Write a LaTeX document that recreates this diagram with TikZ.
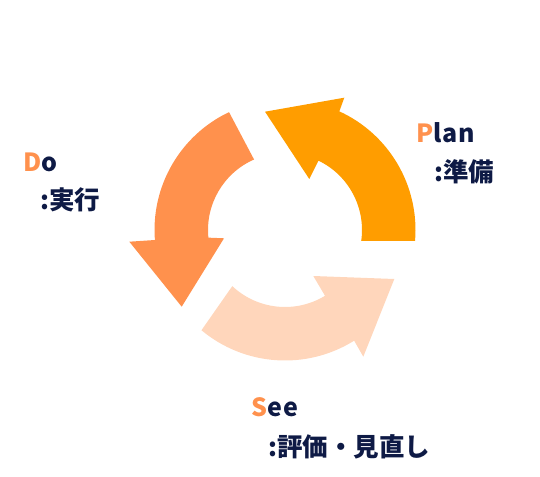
\documentclass[tikz,border=0pt]{standalone}
\usepackage{fontspec}
\setmainfont{Noto Sans CJK JP}
\newfontfamily\latinbold{Noto Sans CJK JP}[LetterSpace=4]
\definecolor{planorange}{HTML}{FF9D00}
\definecolor{doorange}{HTML}{FF914D}
\definecolor{seepeach}{HTML}{FFD6BB}
\definecolor{navy}{HTML}{0E1A45}
\definecolor{initial}{HTML}{FF914D}
\tikzset{
  phase/.style={anchor=base west, inner sep=0pt, text=navy, font=\latinbold\bfseries\fontsize{25}{30}\selectfont},
  desc/.style={anchor=base west, inner sep=0pt, text=navy, font=\bfseries\fontsize{25.5}{30}\selectfont},
}
\begin{document}
\begin{tikzpicture}[x=1pt,y=1pt]
\useasboundingbox (0,0) rectangle (540,476);
\begin{scope}[shift={(285,246)}]
  % Plan arrow
  \fill[planorange] (-4.8:130.5) arc[start angle=-4.8, end angle=65.4, radius=130.5]
    -- (59.3,132.3) -- (-20,118.3) -- (24.3,51) -- (64.2:77)
    arc[start angle=64.2, end angle=-8.2, radius=77] -- cycle;
  % Do arrow
  \fill[doorange] (115.4:130.5) arc[start angle=115.4, end angle=184.4, radius=130.5]
    -- (-155.7,-11.7) -- (-103.3,-76.7) -- (-61,-8.3) -- (185.7:77)
    arc[start angle=185.7, end angle=113.7, radius=77] -- cycle;
  % See arrow
  \fill[seepeach] (230.2:130.5) arc[start angle=230.2, end angle=302, radius=130.5]
    -- (78.3,-126.7) -- (109.3,-49) -- (28.3,-46) -- (301.3:77)
    arc[start angle=301.3, end angle=226.8, radius=77] -- cycle;
\end{scope}
\node[phase] (do) at (23,304.3) {\textcolor{initial}{D}o};
\node[desc] (dodesc) at (40,266) {:実行};
\node[phase] (plan) at (416,333.3) {\textcolor{initial}{P}lan};
\node[desc] (plandesc) at (434,294.5) {:準備};
\node[phase] (see) at (251,59.3) {\textcolor{initial}{S}ee};
\node[desc] (seedesc) at (268,19.5) {:評価・見直し};
\end{tikzpicture}
\end{document}
